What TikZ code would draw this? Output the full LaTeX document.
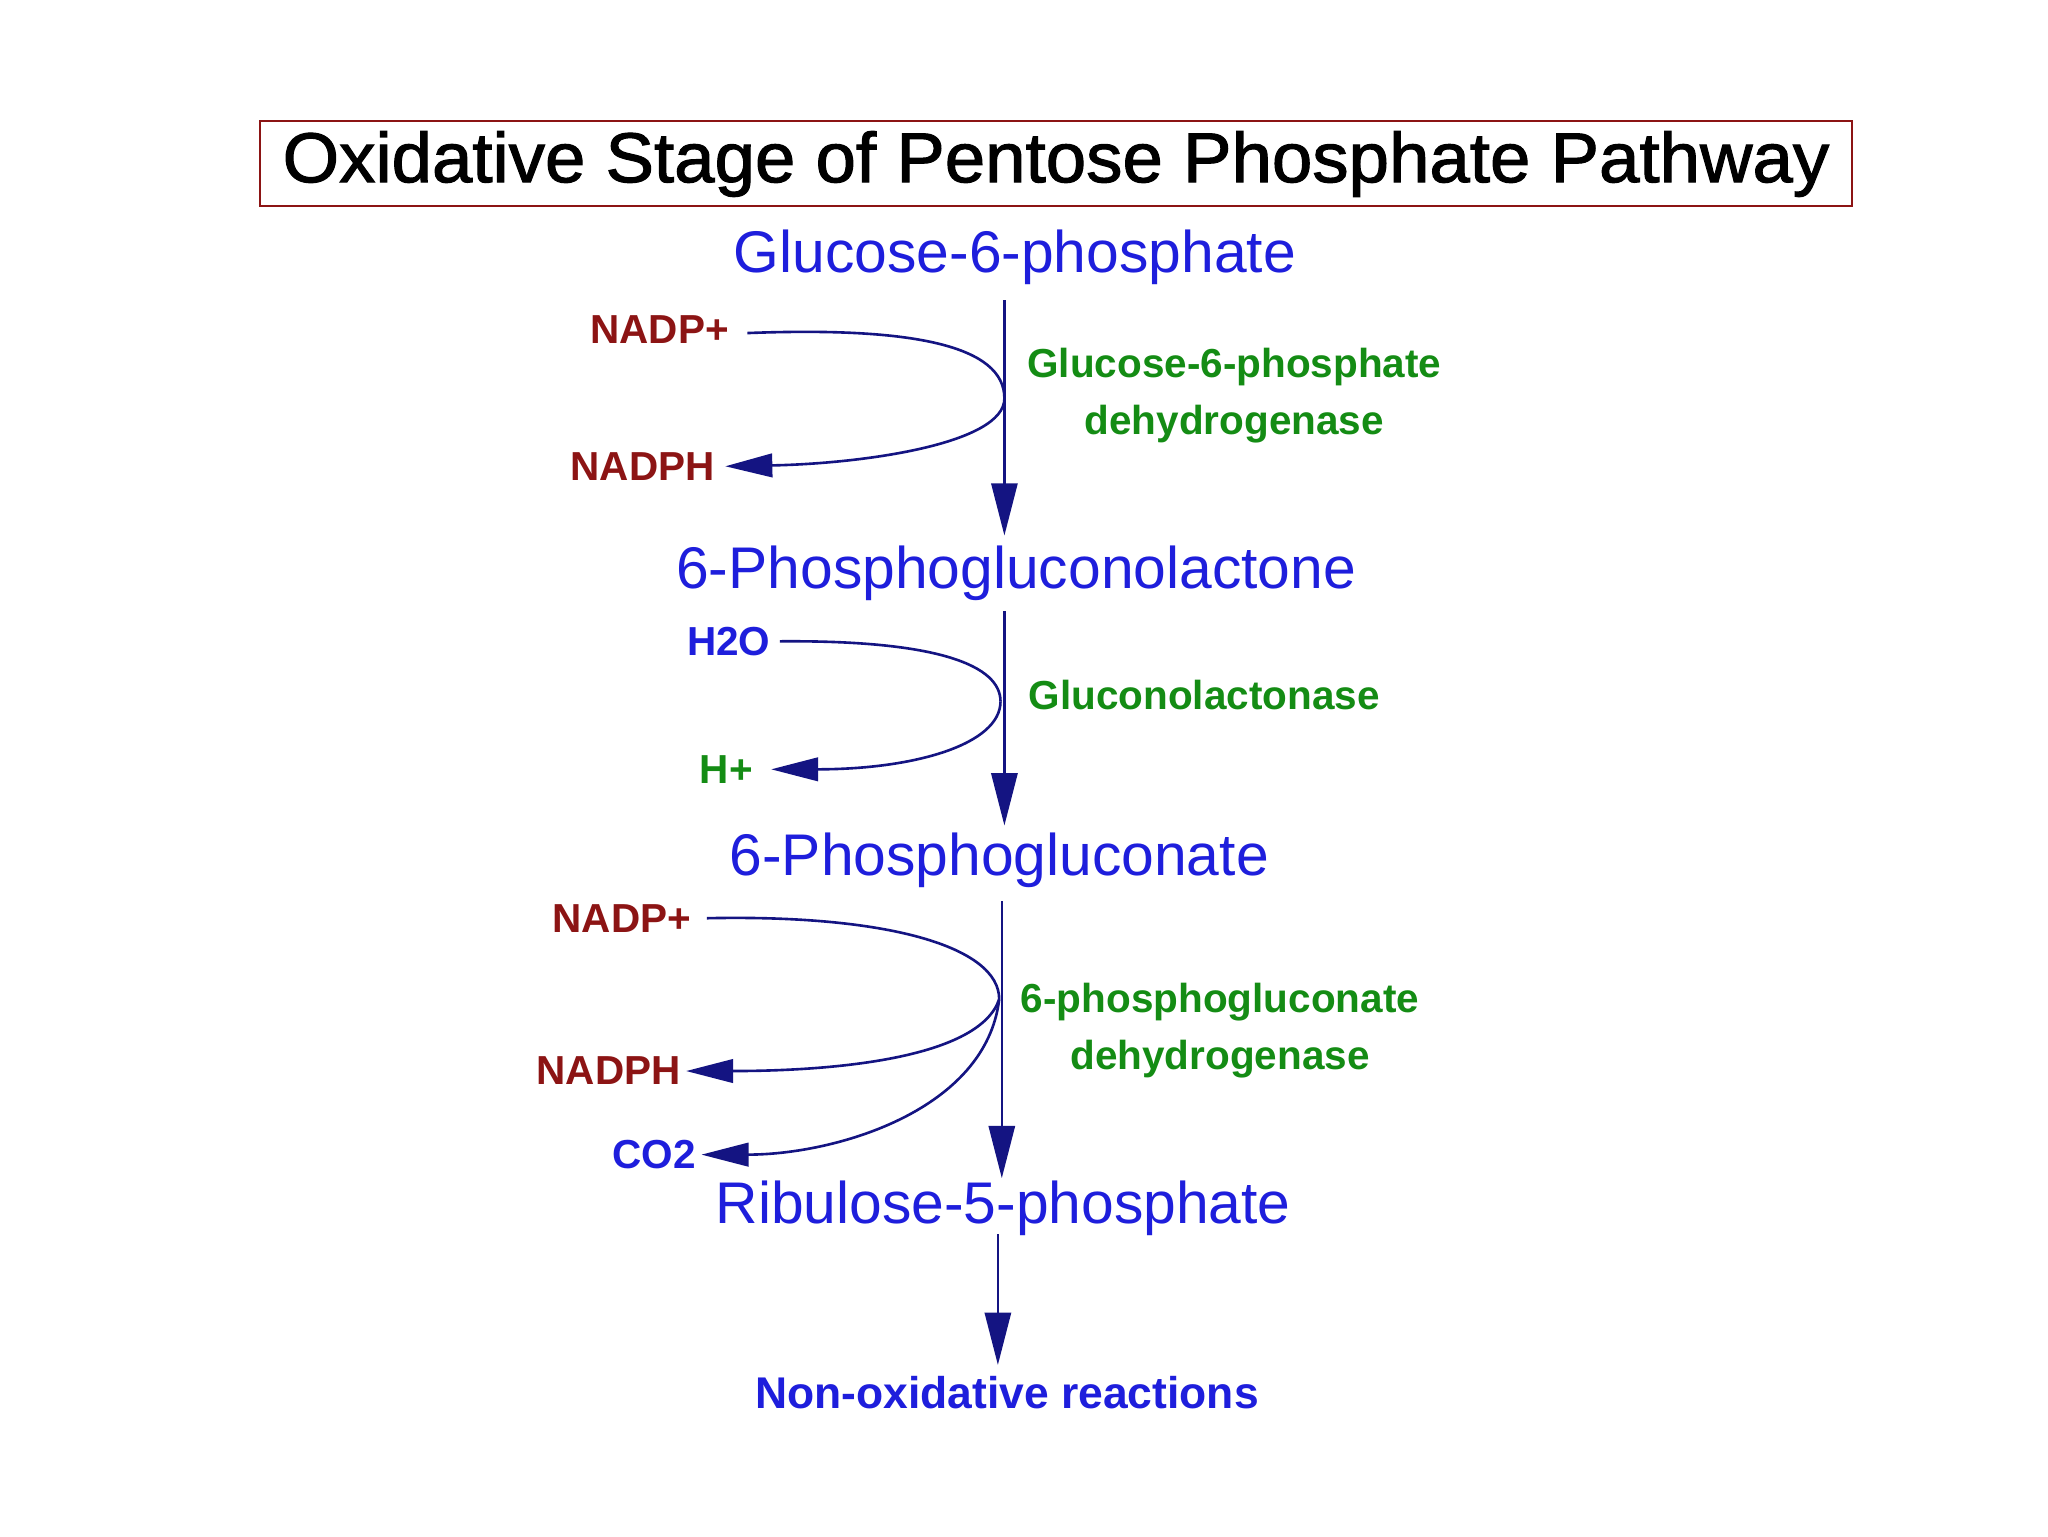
\documentclass[tikz,border=0pt]{standalone}
\usepackage{fontspec}
\setmainfont{Liberation Sans}
\usetikzlibrary{arrows.meta}
\definecolor{navy}{RGB}{20,20,130}
\definecolor{mblue}{RGB}{30,30,220}
\definecolor{dred}{RGB}{140,20,20}
\definecolor{dgreen}{RGB}{20,140,20}
\begin{document}
\begin{tikzpicture}[x=1pt,y=-1pt,
  met/.style={text=mblue,font=\fontsize{45}{48}\selectfont,inner sep=0},
  cof/.style={font=\bfseries\fontsize{31}{34}\selectfont,inner sep=0},
  enz/.style={text=dgreen,font=\bfseries\fontsize{31}{44}\selectfont,align=center,inner sep=0},
  tip/.style={-{Triangle[length=40pt,width=20pt]}},
  ln/.style={draw=navy,line width=2pt},
  sidetip/.style={-{Triangle[length=36pt,width=18pt]}}]
\useasboundingbox[fill=white] (0,0) rectangle (1568,1176);
\node[draw=dred,line width=1.5pt,minimum width=1219pt,minimum height=65pt,inner sep=0] (title) at (808.5,125.5)
  {\fontsize{54}{58}\selectfont\scalebox{1.03}[1]{\addfontfeature{FakeBold=1.5}Oxidative Stage of Pentose Phosphate Pathway}};
\node[met] (g6p) at (777,197) {Glucose-6-phosphate};
\node[met] (pgl) at (778,439) {6-Phosphogluconolactone};
\node[met] (pg) at (765,659) {6-Phosphogluconate};
\node[met] (r5p) at (768,925) {Ribulose-5-phosphate};
\node[text=mblue,font=\bfseries\fontsize{34}{36}\selectfont,inner sep=0] (non) at (771,1066) {Non-oxidative reactions};
\coordinate (a1) at (769,230); \coordinate (b1) at (769,410);
\coordinate (a2) at (769,468); \coordinate (b2) at (769,632);
\coordinate (a3) at (767,690); \coordinate (b3) at (767,902);
\coordinate (a4) at (764,945); \coordinate (b4) at (764,1045);
\draw[ln,tip,navy] (a1) -- (b1);
\draw[ln,tip,navy] (a2) -- (b2);
\draw[ln,tip,navy] (a3) -- (b3);
\draw[ln,tip,navy] (a4) -- (b4);
\node[enz] (e1) at (945,303) {Glucose-6-phosphate\\dehydrogenase};
\node[enz] (e2) at (922,532) {Gluconolactonase};
\node[enz] (e3) at (934,789) {6-phosphogluconate\\dehydrogenase};
\node[cof,text=dred] (n1) at (505,252) {NADP+};
\node[cof,text=dred] (h1) at (492,357) {NADPH};
\coordinate (m1) at (769,305);
\draw[ln] ([xshift=14pt,yshift=-3pt]n1.east) .. controls (700,250) and (769,265) .. (m1);
\draw[ln,sidetip,navy] (m1) .. controls (769,340) and (660,355) .. ([xshift=8pt]h1.east);
\node[cof,text=mblue] (w) at (558,491) {H2O};
\node[cof,text=dgreen] (hp) at (556,589) {H+};
\coordinate (m2) at (766,537);
\draw[ln] ([xshift=7pt]w.east) .. controls (720,490) and (766,510) .. (m2);
\draw[ln,sidetip,navy] (m2) .. controls (766,570) and (700,589) .. ([xshift=14pt]hp.east);
\node[cof,text=dred] (n3) at (476,703) {NADP+};
\node[cof,text=dred] (h3) at (466,820) {NADPH};
\node[cof,text=mblue] (c) at (501,884) {CO2};
\coordinate (m3) at (765,765);
\draw[ln] ([xshift=12pt]n3.east) .. controls (680,700) and (765,725) .. (m3);
\draw[ln,sidetip,navy] (m3) .. controls (750,810) and (640,820) .. ([xshift=4pt]h3.east);
\draw[ln,sidetip,navy] (m3) .. controls (755,850) and (640,884) .. ([xshift=4pt]c.east);
\end{tikzpicture}
\end{document}
